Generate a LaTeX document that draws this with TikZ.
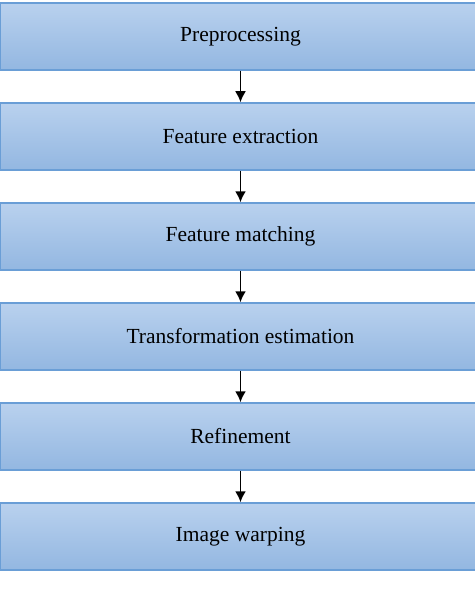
\documentclass[tikz,border=0pt]{standalone}
\usepackage{fontspec}
\setmainfont{Liberation Serif}
\usetikzlibrary{positioning,arrows.meta}
\definecolor{boxtop}{HTML}{B9D1EE}
\definecolor{boxbot}{HTML}{93B7E1}
\definecolor{boxline}{HTML}{6A9ED6}

\begin{document}
\begin{tikzpicture}[every node/.style={font=\fontsize{21.5}{25}\selectfont},
  stage/.style={draw=boxline, line width=1.5pt, top color=boxtop, bottom color=boxbot,
    minimum width=480pt, minimum height=67pt, inner sep=0pt},
  flow/.style={-{Latex[length=11pt,width=11pt]}, line width=1.8pt},
  node distance=31.5pt]
  \useasboundingbox (0,0) rectangle (474pt,-604pt);

  \node[stage] (pre) at (240.5pt,-36.5pt) {Preprocessing};
  \node[stage, below=of pre] (feat) {Feature extraction};
  \node[stage, below=of feat] (match) {Feature matching};
  \node[stage, below=of match] (trans) {Transformation estimation};
  \node[stage, below=of trans] (refine) {Refinement};
  \node[stage, below=of refine] (warp) {Image warping};

  \foreach \a/\b in {pre/feat, feat/match, match/trans, trans/refine, refine/warp}
    \draw[flow] (\a.south) -- (\b.north);
\end{tikzpicture}
\end{document}
